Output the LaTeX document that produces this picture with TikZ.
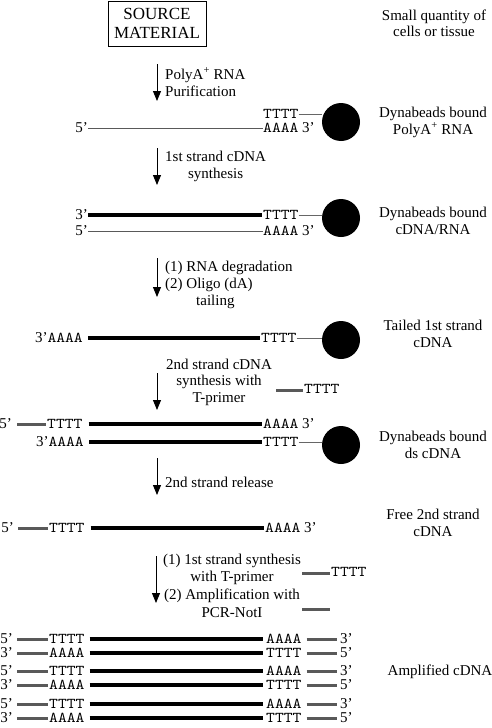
\documentclass[tikz,border=0pt]{standalone}
\usepackage{fontspec}
\setmainfont{Liberation Serif}
\newfontfamily\seqfont{lmmono10-regular.otf}[FakeStretch=1.12]
\usetikzlibrary{arrows.meta}
\newcommand\seqtxt[1]{{\fontsize{15}{15}\selectfont\seqfont #1}}
\tikzset{
 txt/.style={inner sep=0pt, font=\fontsize{15}{17}\selectfont, align=center},
 prime/.style={inner sep=0pt, font=\fontsize{15}{15}\selectfont},
 thin strand/.style={line width=0.9pt, draw=black!65},
 thick strand/.style={line width=4pt, draw=black},
 bar/.style={line width=3pt, draw=black!65},
 tether/.style={line width=0.9pt, draw=black!60},
 bead/.style={circle, fill=black, minimum size=38pt, inner sep=0pt},
 steparrow/.style={line width=0.9pt, -{Triangle[length=10pt,width=8pt]}},
}
\begin{document}
\begin{tikzpicture}[x=1pt,y=-1pt]
\useasboundingbox (0,0) rectangle (492,728);
% source
\node[draw, line width=1pt, minimum width=98pt, minimum height=45pt, inner sep=0pt,
      font=\fontsize{17}{19}\selectfont, align=center] (src) at (157,23.5) {SOURCE\\MATERIAL};
\node[txt, font=\fontsize{15}{16}\selectfont] (r0) at (434,23) {Small quantity of\\cells or tissue};
% arrow 1
\coordinate (a1s) at (157,64); \coordinate (a1e) at (157,101);
\draw[steparrow] (a1s) -- (a1e);
\node[txt, anchor=west, align=left] (l1) at (165,82) {PolyA\textsuperscript{+} RNA\\Purification};
% row 1
\node[prime, anchor=east] (r1p) at (88,128) {5’};
\node[prime, anchor=west] (r1a) at (263,128) {\seqtxt{AAAA} 3’};
\draw[thin strand] (r1p.east) -- (r1a.west);
\node[prime, anchor=west] (r1t) at (263,114) {\seqtxt{TTTT}};
\node[bead] (b1) at (341,122) {};
\draw[tether] (r1t.east) -- (r1t.east -| b1.west);
\node[txt] (r1l) at (433,122) {Dynabeads bound\\PolyA\textsuperscript{+} RNA};
% arrow 2
\coordinate (a2s) at (157,148); \coordinate (a2e) at (157,185);
\draw[steparrow] (a2s) -- (a2e);
\node[txt, anchor=west] (l2) at (165,166) {1st strand cDNA\\synthesis};
% row 2
\node[prime, anchor=east] (r2p) at (88,215) {3’};
\node[prime, anchor=west] (r2t) at (263,215) {\seqtxt{TTTT}};
\draw[thick strand] (r2p.east) -- ([xshift=-1pt]r2t.west);
\node[bead] (b2) at (341,218) {};
\draw[tether] (r2t.east) -- (r2t.east -| b2.west);
\node[prime, anchor=east] (r2q) at (88,231) {5’};
\node[prime, anchor=west] (r2a) at (263,231) {\seqtxt{AAAA} 3’};
\draw[thin strand] (r2q.east) -- (r2a.west);
\node[txt] (r2l) at (433,221) {Dynabeads bound\\cDNA/RNA};
% arrow 3
\coordinate (a3s) at (157,258); \coordinate (a3e) at (157,297);
\draw[steparrow] (a3s) -- (a3e);
\node[txt, anchor=west, align=left] (l3) at (165,285) {(1) RNA degradation\\(2) Oligo (dA)\\\hspace*{31pt}tailing};
% row 3
\node[prime, anchor=east] (r3a) at (83,338) {3’\seqtxt{AAAA}};
\node[prime, anchor=west] (r3t) at (261,338) {\seqtxt{TTTT}};
\draw[thick strand] ([xshift=5pt]r3a.east) -- ([xshift=-1pt]r3t.west);
\node[bead] (b3) at (341,340) {};
\draw[tether] (r3t.east) -- (r3t.east -| b3.west);
\node[txt] (r3l) at (433,334) {Tailed 1st strand\\cDNA};
% arrow 4
\coordinate (a4s) at (157,373); \coordinate (a4e) at (157,410);
\draw[steparrow] (a4s) -- (a4e);
\node[txt, font=\fontsize{15}{16.5}\selectfont] (l4) at (219,382) {2nd strand cDNA\\synthesis with\\T-primer};
\node[prime, anchor=west] (p1t) at (304,389) {\seqtxt{TTTT}};
\coordinate (p1s) at (276,390);
\draw[bar] (p1s) -- ([xshift=-1pt]p1t.west |- p1s);
% row 4
\node[prime, anchor=east] (r4p) at (12,424) {5’};
\node[prime, anchor=west] (r4t) at (47,424) {\seqtxt{TTTT}};
\draw[bar] ([xshift=5pt]r4p.east) -- ([xshift=-1pt]r4t.west);
\node[prime, anchor=west] (r4a) at (263,424) {\seqtxt{AAAA} 3’};
\draw[thick strand] ([xshift=6pt]r4t.east) -- ([xshift=-1pt]r4a.west);
\node[prime, anchor=east] (r4b) at (84,442) {3’\seqtxt{AAAA}};
\node[prime, anchor=west] (r4u) at (263,442) {\seqtxt{TTTT}};
\draw[thick strand] ([xshift=5pt]r4b.east) -- ([xshift=-1pt]r4u.west);
\node[bead] (b4) at (341,445) {};
\draw[tether] (r4u.east) -- (r4u.east -| b4.west);
\node[txt] (r4l) at (433,445) {Dynabeads bound\\ds cDNA};
% arrow 5
\coordinate (a5s) at (157,458); \coordinate (a5e) at (157,495);
\draw[steparrow] (a5s) -- (a5e);
\node[txt, anchor=west] (l5) at (165,482) {2nd strand release};
% row 5
\node[prime, anchor=east] (r5p) at (14,528) {5’};
\node[prime, anchor=west] (r5t) at (49,528) {\seqtxt{TTTT}};
\draw[bar] ([xshift=4pt]r5p.east) -- ([xshift=-1pt]r5t.west);
\node[prime, anchor=west] (r5a) at (265,528) {\seqtxt{AAAA} 3’};
\draw[thick strand] ([xshift=6pt]r5t.east) -- ([xshift=-1pt]r5a.west);
\node[txt] (r5l) at (433,523) {Free 2nd strand\\cDNA};
% arrow 6
\coordinate (a6s) at (156,556); \coordinate (a6e) at (156,603);
\draw[steparrow] (a6s) -- (a6e);
\node[txt, font=\fontsize{15}{17.7}\selectfont] (l6) at (232,585.5) {(1) 1st strand synthesis\\with T-primer\\(2) Amplification with\\PCR-NotI};
\node[prime, anchor=west] (p2t) at (331,572) {\seqtxt{TTTT}};
\coordinate (p2s) at (302,573);
\draw[bar] (p2s) -- ([xshift=-1pt]p2t.west |- p2s);
\coordinate (p3s) at (302,609); \coordinate (p3e) at (330,609);
\draw[bar] (p3s) -- (p3e);
% amplified
\foreach \yy/\ll/\sa/\sb/\rr [count=\i] in {639/5’/TTTT/AAAA/3’, 653/3’/AAAA/TTTT/5’, 671/5’/TTTT/AAAA/3’, 685/3’/AAAA/TTTT/5’, 704/5’/TTTT/AAAA/3’, 718/3’/AAAA/TTTT/5’}{
  \node[prime, anchor=east] (al\i) at (13,\yy) {\ll};
  \node[prime, anchor=west] (as\i) at (49,\yy) {\seqtxt{\sa}};
  \draw[bar] ([xshift=4pt]al\i.east) -- ([xshift=-1pt]as\i.west);
  \node[prime, anchor=west] (ae\i) at (266,\yy) {\seqtxt{\sb}};
  \draw[thick strand] ([xshift=5pt]as\i.east) -- ([xshift=-3pt]ae\i.west);
  \node[prime, anchor=west] (ar\i) at (340,\yy) {\rr};
  \draw[bar] ([xshift=5pt]ae\i.east) -- ([xshift=-3pt]ar\i.west);
}
\node[txt] (r6l) at (440,672) {Amplified cDNA};
\end{tikzpicture}
\end{document}
